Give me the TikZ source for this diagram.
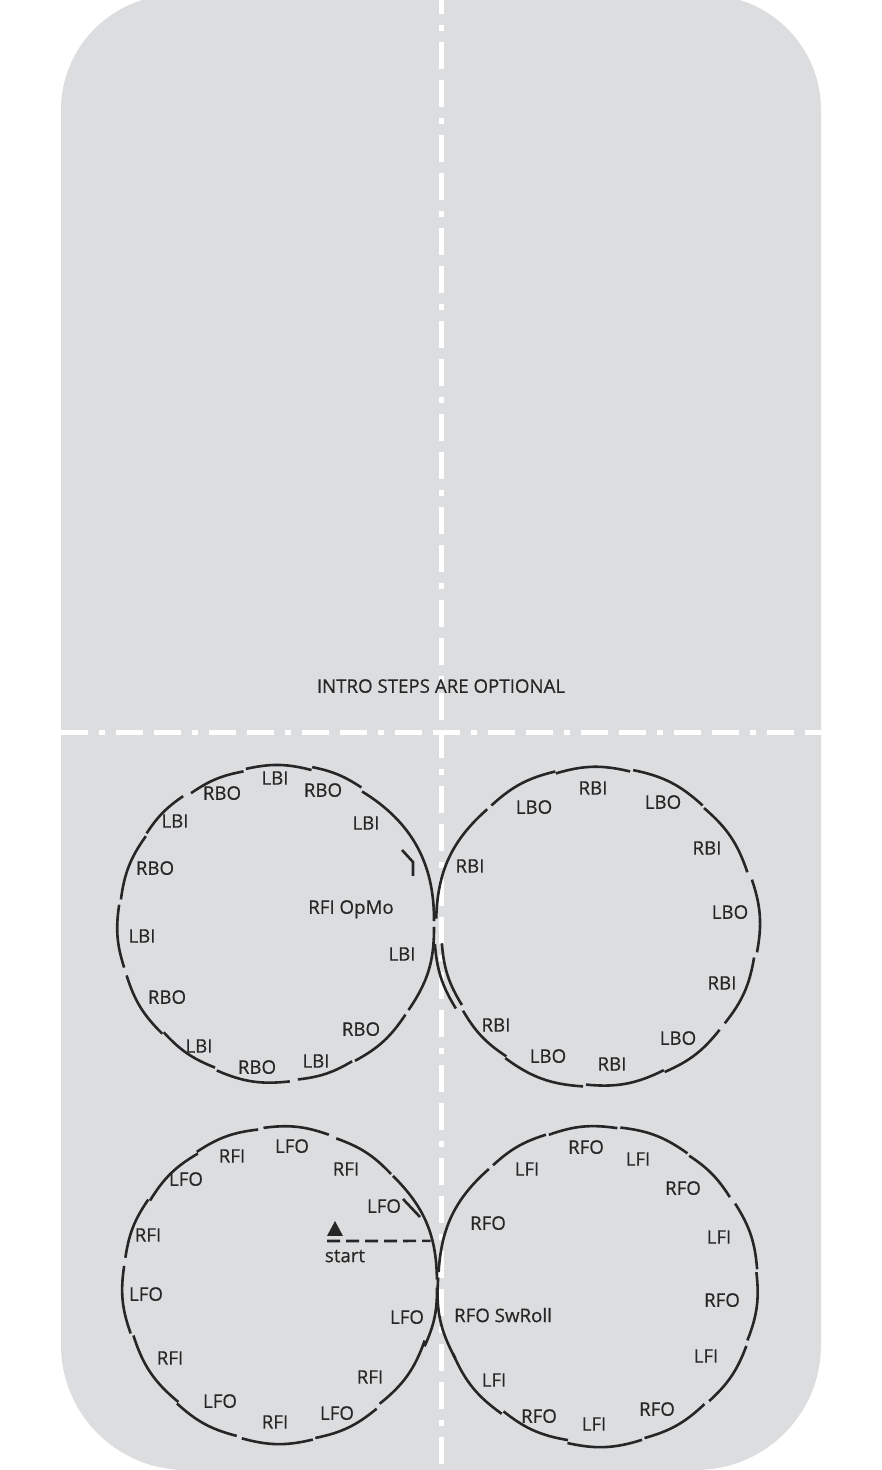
\documentclass[tikz,border=0pt]{standalone}
\usepackage{fontspec}
\newfontfamily\steplettering{Open Sans}[FakeBold=0.4]
\usetikzlibrary{calc}
\definecolor{rink}{HTML}{DCDDDF}
\definecolor{ink}{HTML}{262626}
\def\skatestep[#1](#2)(#3:#4:#5){\pgfmathsetmacro\stepbend{(#4-#3)/2+1.5}\draw[#1] ($(#2)+(#3:#5)$) to[bend right=\stepbend] ($(#2)+(#4:#5)$);}
\tikzset{
	stepline/.style={ink, line width=2.6pt},
	steplabel/.style={text=ink, font=\steplettering\fontsize{18.7}{21}\selectfont, inner sep=0pt, text depth=0pt},
	centreline/.style={white, line width=5pt, dash pattern=on 27pt off 11pt on 27pt off 11pt on 6pt off 11pt}
}

\begin{document}
\begin{tikzpicture}[x=1pt, y=1pt]
				\useasboundingbox (0,0) rectangle (882,1470);
				\fill[white] (0,0) rectangle (882,1470);
				\clip (0,0) rectangle (882,1470);
				\fill[rink] (61,700) [rounded corners=115pt] -- (61,1475) -- (821,1475) -- (821,700) [rounded corners=125pt] -- (821,0) -- (61,0) -- cycle;
				
				\draw[centreline, dash phase=51pt] (441,1470) -- (441,0);
				\draw[centreline, dash phase=38pt] (61,737) -- (821,737);
				\node[steplabel] (intro) at (441,784) {INTRO STEPS ARE OPTIONAL};
				
				\coordinate (tl) at (276,546);
				\coordinate (tr) at (597,543);
				\coordinate (bl) at (280,185);
				\coordinate (br) at (598,184);
				
				\skatestep[stepline](tl)(77:101:158)
				\skatestep[stepline](tl)(102:123:156)
				\skatestep[stepline](tl)(126:145:158)
				\skatestep[stepline](tl)(146:171:157)
				\skatestep[stepline](tl)(173:196:158)
				\skatestep[stepline](tl)(199:224:158)
				\skatestep[stepline](tl)(224:247:156)
				\skatestep[stepline](tl)(248:275:158)
				\skatestep[stepline](tl)(278:299:157)
				\skatestep[stepline](tl)(300:325:158)
				\skatestep[stepline](tl)(327:359:158)
				\skatestep[stepline](tl)(1:57:158)
				\skatestep[stepline](tl)(58:77:161)
				\draw[stepline] (402,620) -- (413,608) -- (413,594);
				
				\skatestep[stepline](tr)(105:131:161)
				\skatestep[stepline](tr)(78:105:159)
				\skatestep[stepline](tr)(49:77:161)
				\skatestep[stepline](tr)(20:48:160)
				\skatestep[stepline](tr)(-9:17:162)
				\skatestep[stepline](tr)(-37:-11:160)
				\skatestep[stepline](tr)(-65:-40:160)
				\skatestep[stepline](tr)(-94:-65:158)
				\skatestep[stepline](tr)(-125:-95:160)
				\skatestep[stepline](tr)(-148:-125:158)
				\skatestep[stepline](tr)(-174:-150:163)
				\skatestep[stepline](tr)(-174:-150:156)
				\skatestep[stepline](tr)(133:177:161)
				
				\skatestep[stepline](bl)(98:122:157)
				\skatestep[stepline](bl)(72:96:158)
				\skatestep[stepline](bl)(45:69:157)
				\skatestep[stepline](bl)(2:44:157)
				\skatestep[stepline](bl)(-23:-1:157)
				\skatestep[stepline](bl)(-50:-21:155)
				\skatestep[stepline](bl)(-77:-52:157)
				\skatestep[stepline](bl)(-104:-78:158)
				\skatestep[stepline](bl)(-131:-106:157)
				\skatestep[stepline](bl)(-161:-131:155)
				\skatestep[stepline](bl)(173:198:157)
				\skatestep[stepline](bl)(147:170:157)
				\skatestep[stepline](bl)(122:147:155)
				\draw[stepline] (403,271) -- (420,253);
				
				\skatestep[stepline](br)(109:131:160)
				\skatestep[stepline](br)(83:108:159)
				\skatestep[stepline](br)(56:82:160)
				\skatestep[stepline](br)(34:55:159)
				\skatestep[stepline](br)(6:31:160)
				\skatestep[stepline](br)(-20:5:159)
				\skatestep[stepline](br)(-46:-22:160)
				\skatestep[stepline](br)(-73:-48:159)
				\skatestep[stepline](br)(-101:-74:160)
				\skatestep[stepline](br)(-127:-101:157)
				\skatestep[stepline](br)(-155:-127:160)
				\skatestep[stepline](br)(177:207:160)
				\skatestep[stepline](br)(133:175:160)
				
				\coordinate (startpt) at (327,229);
				\coordinate (entry) at ($(bl)+(16.3:157)$);
				\draw[ink, line width=2.6pt, dash pattern=on 13pt off 6pt] (startpt) -- (entry);
				\fill[ink] (327,234) -- (343,234) -- (335,249) -- cycle;
				\node[steplabel] (start) at (345,214) {start};
				
				\node[steplabel] (tl1) at (275,692) {LBI};
				\node[steplabel] (tl2) at (222,677) {RBO};
				\node[steplabel] (tl3) at (323,680) {RBO};
				\node[steplabel] (tl4) at (175,649) {LBI};
				\node[steplabel] (tl5) at (366,647) {LBI};
				\node[steplabel] (tl6) at (155,602) {RBO};
				\node[steplabel] (tl7) at (351,563) {RFI OpMo};
				\node[steplabel] (tl8) at (142,534) {LBI};
				\node[steplabel] (tl9) at (402,516) {LBI};
				\node[steplabel] (tl10) at (167,473) {RBO};
				\node[steplabel] (tl11) at (361,441) {RBO};
				\node[steplabel] (tl12) at (199,424) {LBI};
				\node[steplabel] (tl13) at (257,403) {RBO};
				\node[steplabel] (tl14) at (316,409) {LBI};
				
				\node[steplabel] (tr1) at (534,663) {LBO};
				\node[steplabel] (tr2) at (593,682) {RBI};
				\node[steplabel] (tr3) at (663,668) {LBO};
				\node[steplabel] (tr4) at (707,622) {RBI};
				\node[steplabel] (tr5) at (470,604) {RBI};
				\node[steplabel] (tr6) at (730,558) {LBO};
				\node[steplabel] (tr7) at (722,487) {RBI};
				\node[steplabel] (tr8) at (678,432) {LBO};
				\node[steplabel] (tr9) at (612,406) {RBI};
				\node[steplabel] (tr10) at (548,414) {LBO};
				\node[steplabel] (tr11) at (496,445) {RBI};
				
				\node[steplabel] (bl1) at (292,324) {LFO};
				\node[steplabel] (bl2) at (232,314) {RFI};
				\node[steplabel] (bl3) at (186,291) {LFO};
				\node[steplabel] (bl4) at (346,301) {RFI};
				\node[steplabel] (bl5) at (384,264) {LFO};
				\node[steplabel] (bl6) at (148,235) {RFI};
				\node[steplabel] (bl7) at (146,176) {LFO};
				\node[steplabel] (bl8) at (407,153) {LFO};
				\node[steplabel] (bl9) at (170,112) {RFI};
				\node[steplabel] (bl10) at (370,93) {RFI};
				\node[steplabel] (bl11) at (220,69) {LFO};
				\node[steplabel] (bl12) at (337,57) {LFO};
				\node[steplabel] (bl13) at (275,48) {RFI};
				
				\node[steplabel] (br1) at (527,301) {LFI};
				\node[steplabel] (br2) at (586,323) {RFO};
				\node[steplabel] (br3) at (638,311) {LFI};
				\node[steplabel] (br4) at (683,282) {RFO};
				\node[steplabel] (br5) at (488,247) {RFO};
				\node[steplabel] (br6) at (719,233) {LFI};
				\node[steplabel] (br7) at (722,170) {RFO};
				\node[steplabel] (br8) at (503,155) {RFO SwRoll};
				\node[steplabel] (br9) at (706,114) {LFI};
				\node[steplabel] (br10) at (494,90) {LFI};
				\node[steplabel] (br11) at (657,61) {RFO};
				\node[steplabel] (br12) at (539,54) {RFO};
				\node[steplabel] (br13) at (594,46) {LFI};
			\end{tikzpicture}
\end{document}
